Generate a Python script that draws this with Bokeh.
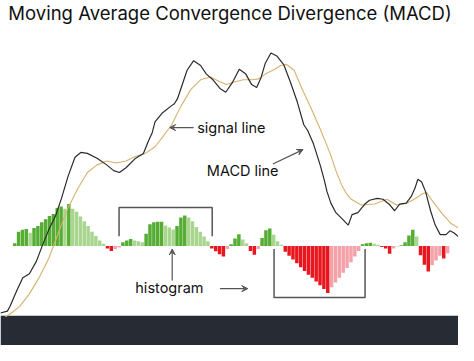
from bokeh.plotting import figure
from bokeh.models import Range1d, Arrow, VeeHead, BoxAnnotation
from bokeh.core.properties import value
from bokeh.embed import file_html
from bokeh.resources import INLINE

# ---------------- data ----------------
title_text = "Moving Average Convergence Divergence (MACD)"

# histogram, one bar per period
hist_vals = [3, 15, 17, 18, 14, 19, 21, 25, 28, 31.5, 33.5, 40, 41.5, 39, 44, 39, 36, 31, 26, 21,
             15, 10.5, 6, 2.5, -2.5, -5, -3, -1.5, 4, 6, 7.5, 6, 5, 4, 13, 23, 25, 25.5, 25.5, 21.5,
             19.5, 17.5, 21, 30, 32, 30, 26, 20, 15, 10, 5, -2.5, -5.5, -8.5, -11, -3, 2, 8, 12.5, 7,
             3, -5, -9, -3, 8.5, 16.5, 18.5, 12, 5, 1.5, -6, -10, -14, -18, -22, -26, -30, -33, -37, -41,
             -45, -49, -43, -38, -33, -28, -23, -17, -11, -5, 2, 3, 3.5, 2.5, 1.5, -1, -2.5, -8, -2.5, -0.5,
             1, 4, 11, 17, 10, -9.5, -19.5, -26.5, -20, -15, -10, -13, -7.5]

macd_t = [-3.7, -1.9, -1.2, 0.6, 2.1, 3.8, 5.6, 7.1, 8.8, 10.6, 12.1, 13.8, 15.6, 17.1, 18.8, 21.3,
          23.8, 25.6, 27.1, 28.8, 31.3, 33.3, 34.6, 35.6, 36.3, 38.1, 40.6, 41.3, 42.1, 43.1, 44.6, 46.3,
          48.1, 49.6, 51.3, 53.1, 54.6, 56.3, 58.1, 59.8, 61.3, 62.6, 63.8, 64.8, 66.3, 67.8, 69.6, 71.3,
          73.1, 74.8, 75.8, 77.3, 79.1, 80.1, 80.8, 81.8, 83.1, 84.6, 86.3, 87.3, 88.8, 90.6, 91.8, 93.8,
          95.3, 97.1, 98.3, 99.6, 101.3, 102.6, 103.6, 104.3, 105.3, 106.3, 107.6, 108.8, 110.1, 111.6,
          112.6, 113.6, 114.8]
macd_v = [-70, -68, -63, -46, -33, -29, -16, 0, 17, 32, 50, 73, 93, 98, 97, 92,
          85, 79, 77, 82, 92, 97, 110, 119, 130, 139, 147, 149, 154, 166, 184, 194,
          189, 180, 174, 165, 161, 171, 185, 180, 169, 166, 177, 191, 202, 199, 190, 172,
          151, 127, 121, 107, 84, 69, 57, 45, 35, 29, 22, 33, 35, 44, 48, 50,
          49, 43, 37, 44, 45, 52, 61, 70, 67, 57, 37, 22, 12, 12,
          16, 14, 10]

signal_t = [-2.4, -1.2, 1.3, 3.8, 6.3, 8.8, 11.3, 13.8, 16.3, 18.8, 21.3, 23.8, 26.3, 28.8, 31.3,
            33.8, 36.3, 38.8, 40.6, 43.1, 45.6, 48.1, 50.6, 53.1, 54.8, 57.1, 59.1, 61.3, 63.1, 64.8,
            67.3, 68.8, 70.3, 72.3, 74.3, 76.6, 79.1, 81.6, 83.1, 84.6, 85.8, 87.1, 89.6, 93.1, 96.3,
            98.8, 101.6, 103.8, 105.6, 106.6, 108.1, 110.6, 112.8, 114.8]
signal_v = [-74, -71, -63, -50, -33, -13, 14, 40, 60, 77, 85, 89, 87, 89, 94,
            97, 104, 117, 127, 147, 164, 174, 177, 172, 169, 172, 174, 174, 175, 180,
            185, 189, 190, 184, 165, 145, 122, 97, 79, 64, 55, 49, 43, 44, 49,
            43, 45, 50, 55, 56, 47, 34, 24, 19]

label_texts = ["signal line", "MACD line", "histogram"]

# ---------------- styling ----------------
DARK_GREEN = "#55ad34"
LIGHT_GREEN = "#a9d68e"
DARK_RED = "#e8161e"
LIGHT_RED = "#f4a3aa"
INK = "#555555"

colors = []
prev = None
for v in hist_vals:
    if v >= 0:
        c = DARK_GREEN if (prev is None or v >= prev) else LIGHT_GREEN
    else:
        c = DARK_RED if (prev is None or v <= prev) else LIGHT_RED
    colors.append(c)
    prev = v

p = figure(width=458, height=345, x_range=Range1d(-3.675, 114.825), y_range=Range1d(-104, 257),
           output_backend="svg", toolbar_location=None, min_border=0)
p.axis.visible = False
p.grid.visible = False
p.outline_line_color = None
p.background_fill_color = "white"
p.border_fill_color = "white"

# bottom dark band
p.add_layout(BoxAnnotation(top=-73, fill_color="#272c34", fill_alpha=1, line_color=None, level="underlay"))

p.vbar(x=list(range(len(hist_vals))), top=hist_vals, bottom=0, width=0.9,
       fill_color=colors, line_color=None)

p.line(signal_t, signal_v, line_color="#d6b26e", line_width=1.1)
p.line(macd_t, macd_v, line_color="#2b2b2b", line_width=1.2)

# brackets
p.line([27.0, 27.0, 51.1, 51.1], [10.3, 40.3, 40.3, 10.3], line_color=INK, line_width=1.5)
p.line([67.1, 67.1, 90.65, 90.65], [-3, -53.7, -53.7, -3], line_color=INK, line_width=1.5)

# arrows
def arrow(x0, y0, x1, y1):
    p.add_layout(Arrow(end=VeeHead(size=6, line_color=INK, fill_color=INK, line_width=1),
                       x_start=x0, y_start=y0, x_end=x1, y_end=y1,
                       line_color=INK, line_width=1.2))

arrow(46.3, 124, 40.1, 124)
arrow(66.8, 86, 74.6, 101)
arrow(40.75, -36, 40.75, -3)
arrow(53.1, -44.5, 60.3, -44.5)

# labels
p.text(x=[47.2, 49.7, 31.2], y=[124, 79, -43], text=label_texts,
       text_font=value("Inter"), text_font_size="14.5px", text_align="left",
       text_baseline="middle", text_color="#111111")

# title
p.text(x=[55.7], y=[244], text=[title_text], text_font=value("Inter"), text_font_size="18.5px",
       text_align="center", text_baseline="middle", text_color="#111111")

open("out.html", "w").write(file_html(p, INLINE))
